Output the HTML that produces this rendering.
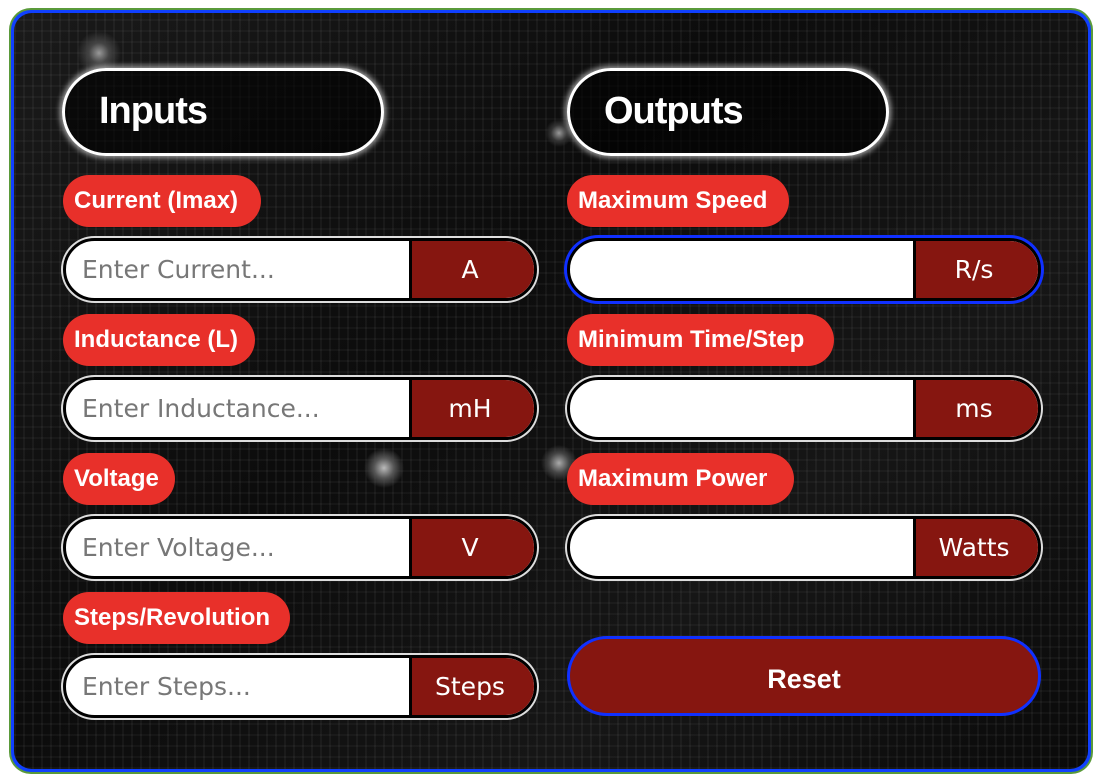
<!DOCTYPE html>
<html><head><style>
html,body{margin:0;padding:0;width:1106px;height:782px;background:#fff;overflow:hidden}
.frame{position:absolute;left:9px;top:8px;width:1084px;height:766px;border-radius:22px;background:#5a9a3a;}
.main{position:absolute;left:11px;top:10px;width:1080px;height:762px;border-radius:20px;background:#1040ff;}
.bg{position:absolute;left:3px;top:3px;right:3px;bottom:3px;border-radius:18px;
background:
radial-gradient(circle at 85px 40px,#999 0,#444 10px,transparent 22px),
radial-gradient(circle at 370px 455px,#bbb 0,#555 10px,transparent 20px),
radial-gradient(circle at 545px 450px,#aaa 0,#444 10px,transparent 18px),
radial-gradient(circle at 545px 120px,#999 0,#333 8px,transparent 14px),
repeating-linear-gradient(90deg,rgba(255,255,255,.045) 0 2px,transparent 2px 9px),
repeating-linear-gradient(0deg,rgba(255,255,255,.035) 0 2px,transparent 2px 11px),
linear-gradient(135deg,#1a1a1a 0%,#0c0c0c 40%,#161616 70%,#0a0a0a 100%);}
.hdr{position:absolute;width:316px;height:82px;border:3px solid #fff;border-radius:45px;background:rgba(0,0,0,.6);box-shadow:0 0 6px 2px rgba(255,255,255,.6);}
.hdr span{position:absolute;left:34px;top:19px;color:#fff;font:bold 38px "Liberation Sans",sans-serif;letter-spacing:-1px}
.lbl{position:absolute;height:52px;border-radius:26px;background:#e8302a;color:#fff;font:bold 24px "Liberation Sans",sans-serif;line-height:52px;padding:0 11px;box-sizing:border-box;white-space:nowrap}
.row{position:absolute;width:474px;height:63px;box-sizing:border-box;border:3px solid #000;border-radius:32px;background:#fff;overflow:hidden;box-shadow:0 0 0 2px #ddd}
.row.blue{box-shadow:0 0 0 3px #1030ff}
.row .ph{position:absolute;left:16px;top:14px;color:#777;font:25px "DejaVu Sans","Liberation Sans",sans-serif}
.row .u{position:absolute;left:343px;top:0;right:0;bottom:0;background:#861610;border-left:3px solid #000;color:#fff;font:25px "DejaVu Sans","Liberation Sans",sans-serif;text-align:center;line-height:57px;padding-right:6px}
.reset{position:absolute;left:567px;top:636px;width:474px;height:80px;box-sizing:border-box;border:3px solid #1030ff;border-radius:40px;background:#861610;color:#fff;font:bold 27px "Liberation Sans",sans-serif;text-align:center;line-height:80px}
</style></head><body>
<div class="frame"></div>
<div class="main"><div class="bg"></div></div>
<div class="hdr" style="left:62px;top:68px"><span>Inputs</span></div>
<div class="hdr" style="left:567px;top:68px"><span>Outputs</span></div>

<div class="lbl" style="left:63px;top:175px;width:198px">Current (Imax)</div>
<div class="row" style="left:63px;top:238px"><span class="ph">Enter Current...</span><div class="u">A</div></div>
<div class="lbl" style="left:63px;top:314px;width:192px">Inductance (L)</div>
<div class="row" style="left:63px;top:377px"><span class="ph">Enter Inductance...</span><div class="u">mH</div></div>
<div class="lbl" style="left:63px;top:453px;width:112px">Voltage</div>
<div class="row" style="left:63px;top:516px"><span class="ph">Enter Voltage...</span><div class="u">V</div></div>
<div class="lbl" style="left:63px;top:592px;width:227px">Steps/Revolution</div>
<div class="row" style="left:63px;top:655px"><span class="ph">Enter Steps...</span><div class="u">Steps</div></div>

<div class="lbl" style="left:567px;top:175px;width:222px">Maximum Speed</div>
<div class="row blue" style="left:567px;top:238px"><div class="u">R/s</div></div>
<div class="lbl" style="left:567px;top:314px;width:267px">Minimum Time/Step</div>
<div class="row" style="left:567px;top:377px"><div class="u">ms</div></div>
<div class="lbl" style="left:567px;top:453px;width:227px">Maximum Power</div>
<div class="row" style="left:567px;top:516px"><div class="u">Watts</div></div>
<div class="reset">Reset</div>
</body></html>
